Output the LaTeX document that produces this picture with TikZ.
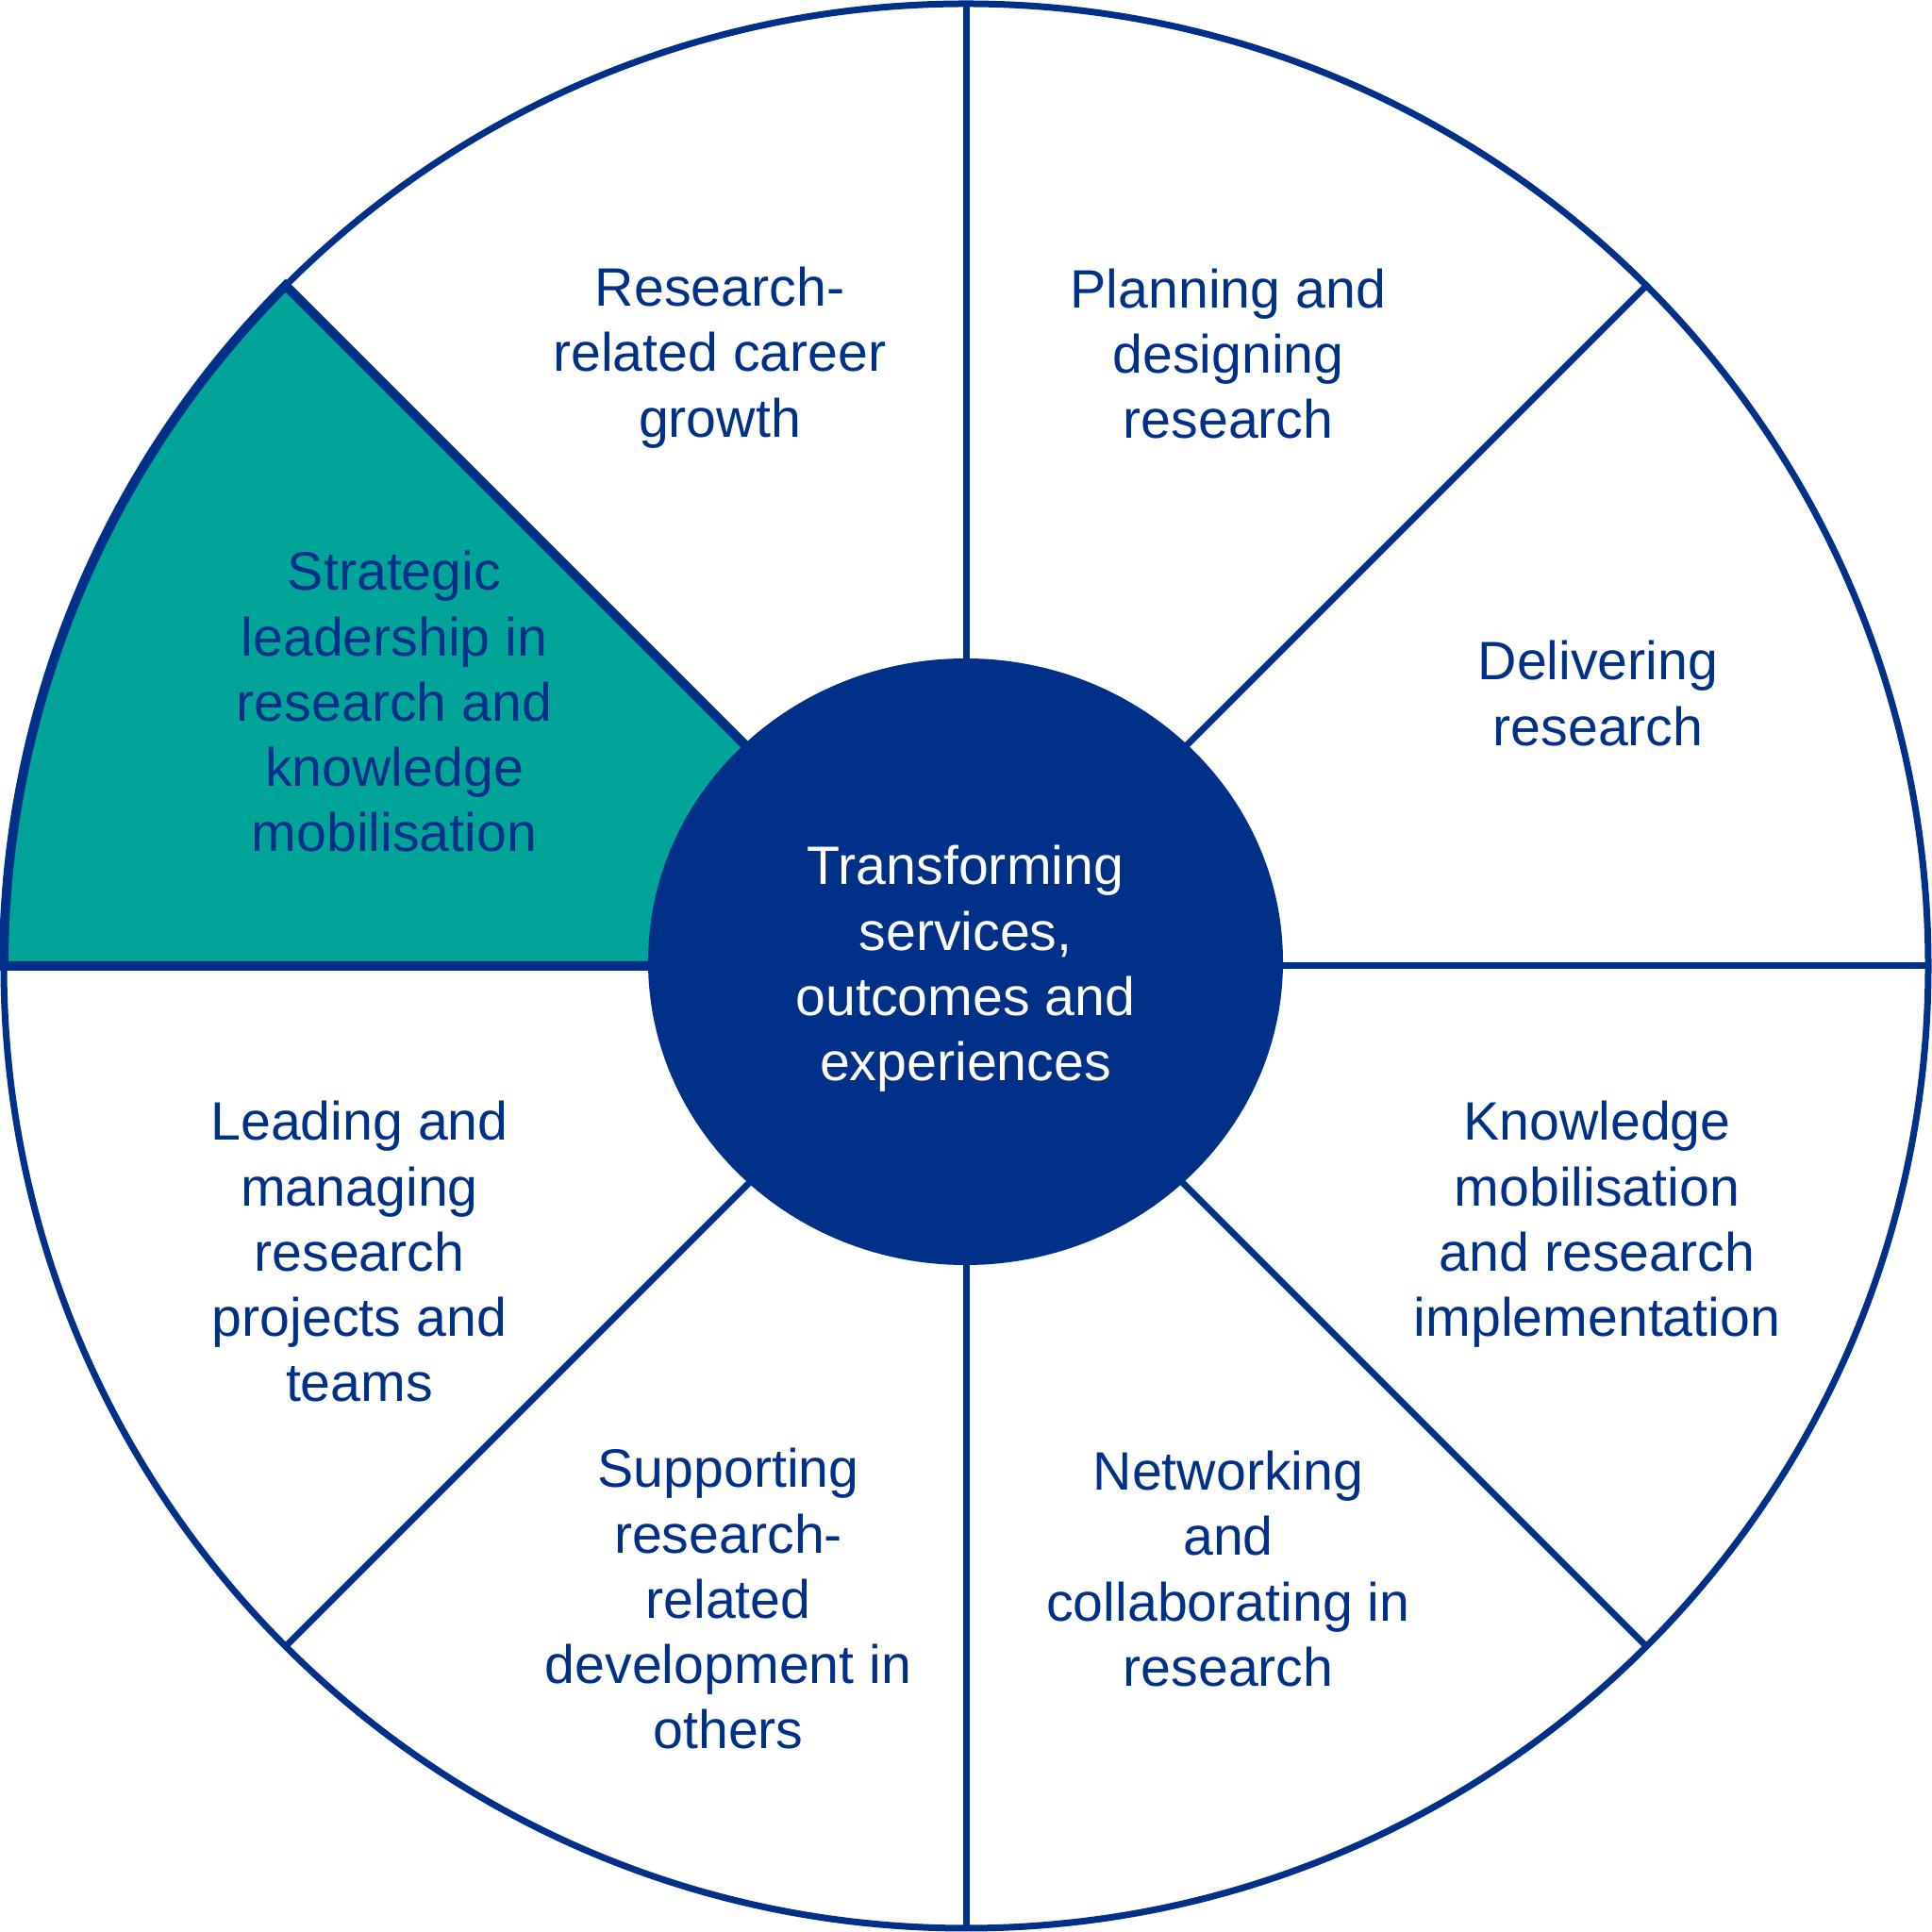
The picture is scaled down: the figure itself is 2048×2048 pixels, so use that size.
\documentclass[tikz,border=0pt]{standalone}
\usepackage{fontspec}
\setmainfont{Liberation Sans}
\usetikzlibrary{shapes.geometric}
\definecolor{wheelblue}{HTML}{003087}
\definecolor{wheelteal}{HTML}{00A499}
\tikzstyle{rim} = [draw=wheelblue, line width=0.7mm]
\tikzstyle{highlight} = [draw=wheelblue, line width=1mm, line join=miter]
\tikzstyle{segment} = [text=wheelblue, align=center, inner sep=0pt, font=\fontsize{16.3}{19.7}\selectfont]
\tikzstyle{hub} = [ellipse, fill=wheelblue, inner sep=0pt, minimum width=67.3mm, minimum height=64.3mm]
\tikzstyle{hubtext} = [text=white, align=center, inner sep=0pt, font=\fontsize{16.3}{19.7}\selectfont]

\begin{document}
\begin{tikzpicture}[x=0.1mm, y=0.1mm]
		\useasboundingbox (0,0) rectangle (2048,2048);
		\coordinate (c) at (1024,1024);

		% highlighted sector
		\fill [wheelteal] (c) -- ++(135:1020) arc (135:180:1020) -- cycle;
		\draw [rim] (c) circle (1020);
		\foreach \a in {0,45,90,135}
			\draw [rim] (c) ++(\a:1020) -- ++(\a+180:2040);
		\draw [highlight] (c) -- ++(135:1020) arc (135:180:1020) -- cycle;

		\node (hub) [hub] at (1023.5,1028.5) {};
		\node (hubtext) [hubtext] at (1023.5,1021) {Transforming\\services,\\outcomes and\\experiences};

		\node (career) [segment] at (763,1669) {Research-\\related career\\growth};
		\node (planning) [segment] at (1302,1673) {Planning and\\designing\\research};
		\node (delivering) [segment] at (1694,1313) {Delivering\\research};
		\node (knowledge) [segment] at (1693,750) {Knowledge\\mobilisation\\and research\\implementation};
		\node (networking) [segment] at (1302,385) {Networking\\and\\collaborating in\\research};
		\node (supporting) [segment] at (772,353) {Supporting\\research-\\related\\development in\\others};
		\node (leading) [segment] at (381,721) {Leading and\\managing\\research\\projects and\\teams};
		\node (strategic) [segment] at (418,1304) {Strategic\\leadership in\\research and\\knowledge\\mobilisation};
	\end{tikzpicture}
\end{document}
